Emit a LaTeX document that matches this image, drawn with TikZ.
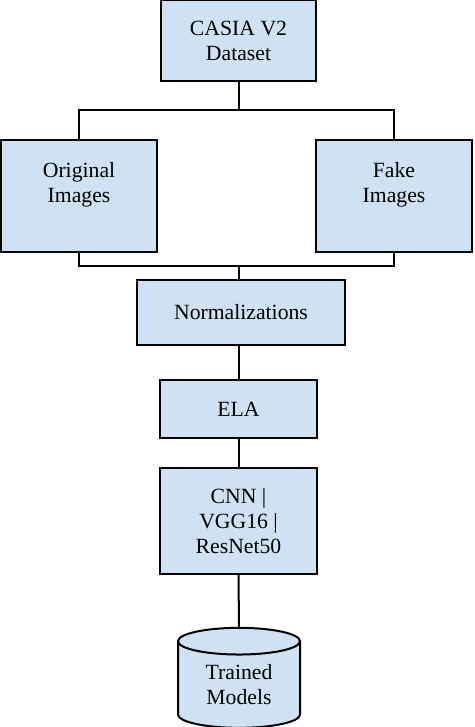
\documentclass[tikz,border=0pt]{standalone}
\usepackage{fontspec}
\setmainfont{Liberation Serif}
\usetikzlibrary{shapes.geometric}
\definecolor{boxblue}{RGB}{207,226,243}
\tikzset{
  stage/.style={draw, line width=2pt, fill=boxblue, align=center,
    font=\fontsize{21.7}{25}\selectfont, inner sep=0pt},
  link/.style={line width=2pt}
}

\begin{document}
\begin{tikzpicture}[x=1pt, y=-1pt]
    \useasboundingbox (0,0) rectangle (474,727);
    \begin{scope}
    \clip (0,0) rectangle (474,727);
    \node[stage, minimum width=155pt, minimum height=81pt] (casia) at (238.5,41) {CASIA V2\\Dataset};
    \node[stage, minimum width=156pt, minimum height=112pt] (orig) at (79,196) {Original\\Images\\[3pt]};
    \node[stage, minimum width=156pt, minimum height=112pt] (fake) at (394,196) {Fake\\Images\\[3pt]};
    \node[stage, minimum width=208pt, minimum height=65pt] (norm) at (241,312.5) {Normalizations};
    \node[stage, minimum width=157pt, minimum height=58pt] (ela) at (238.5,409) {ELA};
    \node[stage, minimum width=157pt, minimum height=106pt] (cnn) at (238.5,521) {CNN |\\VGG16 |\\ResNet50};
    \node[stage, cylinder, shape border rotate=90, aspect=0.4,
      minimum width=122pt, minimum height=100pt] (models) at (239,685) {Trained\\Models};
    \end{scope}
    % connectors
    \coordinate (split) at (238.5,110);
    \coordinate (merge) at (238.5,266);
    \draw[link] (casia.south) -- (split);
    \draw[link] (orig.north) |- (split) -| (fake.north);
    \draw[link] (orig.south) |- (merge) -| (fake.south);
    \draw[link] (merge) -- (merge |- norm.north);
    \draw[link] (ela.north |- norm.south) -- (ela.north);
    \draw[link] (ela.south) -- (cnn.north);
    \draw[link] (cnn.south) -- (models.north);
\end{tikzpicture}
\end{document}
